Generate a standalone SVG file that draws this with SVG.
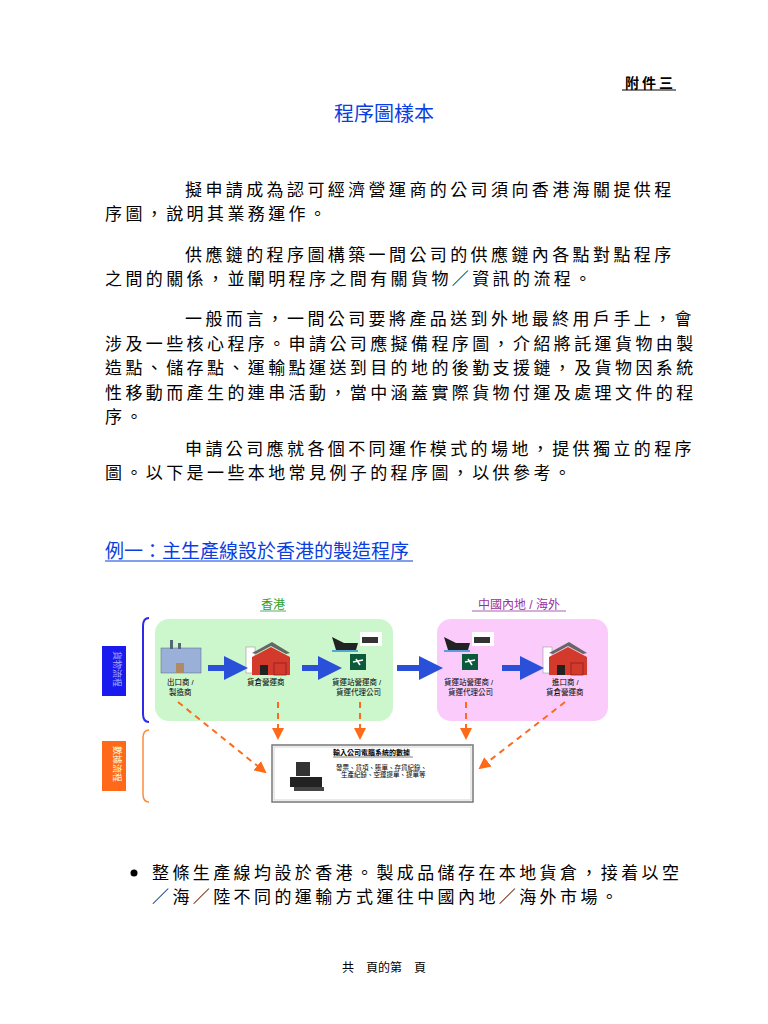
<svg xmlns="http://www.w3.org/2000/svg" width="768" height="1024" viewBox="0 0 768 1024">
<style>
.t{font-family:"Liberation Serif","Noto Sans CJK TC",serif;font-size:17px;letter-spacing:3.4px;fill:#000}
.s{font-family:"Liberation Sans","Noto Sans CJK TC",sans-serif;font-size:7.5px;fill:#000}
.flow{stroke:#2a4fd8;stroke-width:6;fill:none;marker-end:url(#ba)}
.dash{stroke:#ff6a1a;stroke-width:2;stroke-dasharray:6,5;fill:none;marker-end:url(#oa)}
</style>
<defs>
<marker id="ba" markerWidth="4" markerHeight="4" refX="2" refY="2" orient="auto"><path d="M0,0L4,2L0,4z" fill="#2a4fd8"/></marker>
<marker id="oa" markerWidth="6" markerHeight="6" refX="5" refY="3" orient="auto"><path d="M0,0L6,3L0,6z" fill="#ff6a1a"/></marker>
<g id="barnicon"><rect x="0" y="0" width="9" height="26" fill="#fff" stroke="#999" stroke-width="0.6"/><path d="M6,10L25,0L44,10L44,28L6,28z" fill="#d33a2c"/><path d="M10,7L25,-1L40,7L44,6L26,-5L6,6z" fill="#666"/><rect x="14" y="18" width="8" height="10" fill="#222"/><rect x="28" y="16" width="12" height="12" fill="none" stroke="#822" stroke-width="0.8"/></g>
<g id="shipicon"><path d="M0,0L12,6L26,6L24,13L4,13z" fill="#222"/><rect x="28" y="-5" width="22" height="14" fill="#fff"/><rect x="30" y="0" width="16" height="6" fill="#333"/><path d="M0,14L26,14" stroke="#2a8cd8" stroke-width="1.5"/><rect x="18" y="17" width="16" height="16" fill="#0b5a3a"/><path d="M21,25L31,23M24,22L28,28" stroke="#fff" stroke-width="1.5"/></g>
</defs>
<text x="676" y="88" text-anchor="end" style="font-family:'Liberation Serif','Noto Sans CJK TC',serif;font-size:14px;font-weight:bold;letter-spacing:3px">附件三</text>
<line x1="622" y1="90" x2="676" y2="90" stroke="#000"/>
<text x="384" y="121" text-anchor="middle" style="font-family:'Liberation Serif','Noto Sans CJK TC',serif;font-size:20px;fill:#0a3ee0">程序圖樣本</text>
<text class="t" x="185" y="196">擬申請成為認可經濟營運商的公司須向香港海關提供程</text>
<text class="t" x="105" y="220">序圖，說明其業務運作。</text>
<text class="t" x="185" y="261">供應鏈的程序圖構築一間公司的供應鏈內各點對點程序</text>
<text class="t" x="105" y="285">之間的關係，並闡明程序之間有關貨物／資訊的流程。</text>
<text class="t" x="185" y="325">一般而言，一間公司要將產品送到外地最終用戶手上，會</text>
<text class="t" x="105" y="350">涉及一些核心程序。申請公司應擬備程序圖，介紹將託運貨物由製</text>
<text class="t" x="105" y="374">造點、儲存點、運輸點運送到目的地的後勤支援鏈，及貨物因系統</text>
<text class="t" x="105" y="399">性移動而產生的連串活動，當中涵蓋實際貨物付運及處理文件的程</text>
<text class="t" x="105" y="423">序。</text>
<text class="t" x="185" y="455">申請公司應就各個不同運作模式的場地，提供獨立的程序</text>
<text class="t" x="105" y="479">圖。以下是一些本地常見例子的程序圖，以供參考。</text>
<text x="105" y="558" style="font-family:'Liberation Serif','Noto Sans CJK TC',serif;font-size:19px;fill:#0a3ee0">例一：主生產線設於香港的製造程序</text>
<line x1="105" y1="561" x2="413" y2="561" stroke="#0a3ee0" stroke-width="1.2"/>

<g id="region-hk"><rect x="155" y="619" width="238" height="102" rx="14" fill="#ccf7cc"/>
<text x="273" y="609" text-anchor="middle" style="font-family:'Liberation Sans','Noto Sans CJK TC',sans-serif;font-size:12px;fill:#2fa02f">香港</text><line x1="260" y1="611" x2="286" y2="611" stroke="#2fa02f" stroke-width="0.8"/></g>
<g id="region-cn"><rect x="437" y="619" width="171" height="102" rx="14" fill="#fbccfb"/>
<text x="519" y="609" text-anchor="middle" style="font-family:'Liberation Sans','Noto Sans CJK TC',sans-serif;font-size:12px;fill:#9a30a0">中國內地 / 海外</text><line x1="472" y1="611" x2="566" y2="611" stroke="#9a30a0" stroke-width="0.8"/></g>

<g id="label-goods"><rect x="102" y="646" width="24" height="50" fill="#1a1aee"/><text x="114" y="651" transform="rotate(90 114 651)" style="font-family:'Liberation Sans','Noto Sans CJK TC',sans-serif;font-size:9px;fill:#aaf">貨物流程</text></g>
<g id="label-data"><rect x="102" y="741" width="24" height="50" fill="#ff6a1a"/><text x="114" y="746" transform="rotate(90 114 746)" style="font-family:'Liberation Sans','Noto Sans CJK TC',sans-serif;font-size:9px;fill:#ffd">數據流程</text></g>
<path d="M149,618Q143,618 143,626L143,714Q143,722 149,722" fill="none" stroke="#2a2ae8" stroke-width="2"/>
<path d="M149,730Q143,730 143,738L143,794Q143,802 149,802" fill="none" stroke="#ff8a3a" stroke-width="1.5"/>

<g id="n-exporter"><rect x="161" y="648" width="40" height="25" fill="#9ab0d8" stroke="#567" stroke-width="0.5"/><rect x="170" y="640" width="3" height="9" fill="#567"/><rect x="178" y="643" width="3" height="6" fill="#567"/><rect x="176" y="663" width="8" height="10" fill="#b08a60"/><text class="s" x="167" y="685">出口商 /</text><text class="s" x="169" y="695">製造商</text></g>
<g id="n-warehouse"><use href="#barnicon" x="246" y="647"/><text class="s" x="247" y="685">貨倉營運商</text></g>
<g id="n-hkfwd"><use href="#shipicon" x="332" y="637"/><text class="s" x="332" y="685">貨運站營運商 /</text><text class="s" x="336" y="695">貨運代理公司</text></g>
<g id="n-cnfwd"><use href="#shipicon" x="444" y="637"/><text class="s" x="444" y="685">貨運站營運商 /</text><text class="s" x="448" y="695">貨運代理公司</text></g>
<g id="n-importer"><use href="#barnicon" x="543" y="647"/><text class="s" x="552" y="685">進口商 /</text><text class="s" x="546" y="695">貨倉營運商</text></g>
<g id="n-computer"><rect x="272" y="745" width="201" height="57" fill="#fff" stroke="#777" stroke-width="1.5"/><rect x="274" y="747" width="197" height="53" fill="none" stroke="#aaa" stroke-width="0.5"/>
<rect x="296" y="762" width="14" height="14" fill="#333"/><rect x="290" y="777" width="32" height="10" fill="#222"/><rect x="294" y="787" width="30" height="4" fill="#444"/>
<text x="333" y="755" style="font-family:'Liberation Sans','Noto Sans CJK TC',sans-serif;font-size:7px;font-weight:bold">輸入公司電腦系統的數據</text><line x1="333" y1="757" x2="413" y2="757" stroke="#000" stroke-width="0.5"/>
<text class="s" x="336" y="770" style="font-size:6.5px">發票、貨項、賬單、存貨紀錄、</text><text class="s" x="341" y="777" style="font-size:6.5px">生產紀錄、空運提單、提單等</text></g>

<g id="connectors">
<path class="flow" d="M208,668L236,668"/><path class="flow" d="M302,668L330,668"/><path class="flow" d="M397,668L431,668"/><path class="flow" d="M502,668L532,668"/>
<path class="dash" d="M178,702L265,772"/><path class="dash" d="M278,702L278,738"/><path class="dash" d="M360,702L360,738"/><path class="dash" d="M466,702L466,738"/><path class="dash" d="M565,702L480,768"/>
</g>

<circle cx="134" cy="873" r="3.5" fill="#000"/>
<text class="t" x="152" y="879">整條生產線均設於香港。製成品儲存在本地貨倉，接着以空</text>
<text class="t" x="152" y="903">／海／陸不同的運輸方式運往中國內地／海外市場。</text>
<text x="384" y="972" text-anchor="middle" style="font-family:'Liberation Serif','Noto Sans CJK TC',serif;font-size:12px">共　頁的第　頁</text>
</svg>
